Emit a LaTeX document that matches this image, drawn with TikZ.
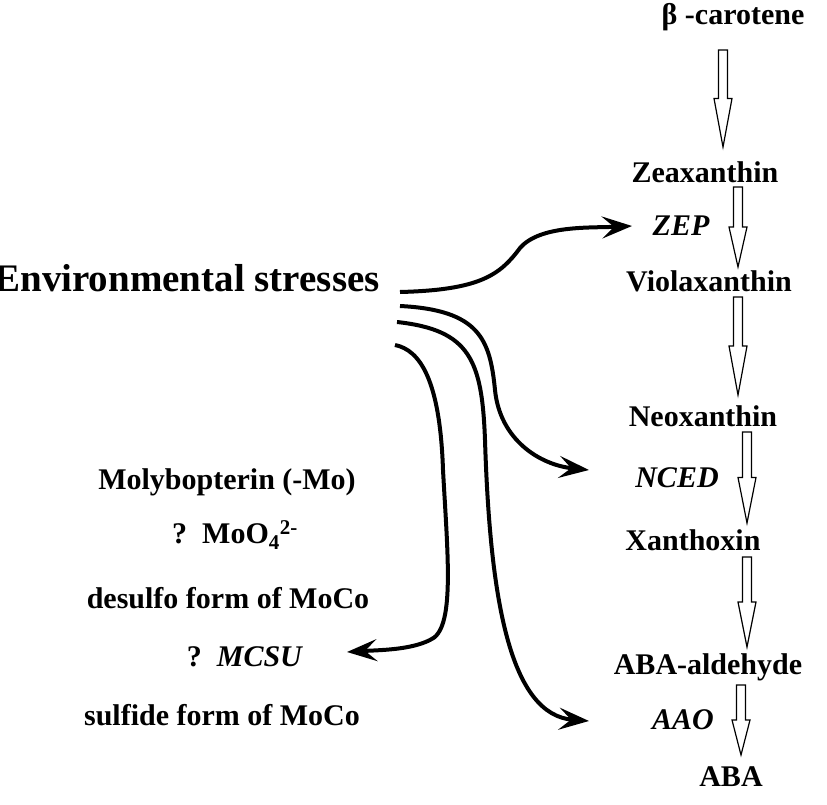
\documentclass[tikz,border=0pt]{standalone}
\usepackage{fontspec}
\setmainfont{Liberation Serif}
\usetikzlibrary{arrows.meta}
\begin{document}
\begin{tikzpicture}[x=1pt,y=-1pt,
  lab/.style={font=\fontsize{30}{32}\selectfont\bfseries, inner sep=0pt},
  enz/.style={font=\fontsize{30}{32}\selectfont\bfseries\itshape, inner sep=0pt},
  stress/.style={line width=4pt, -{Stealth[length=30pt,width=22pt,inset=12pt]}},
  hol/.style={draw=black, line width=1.2pt, fill=white}]
\useasboundingbox (0,0) rectangle (827,805);
% pathway
\node[lab] (car) at (733,17) {β -carotene};
\node[lab] (zea) at (705,172) {Zeaxanthin};
\node[enz] (zep) at (681,226) {ZEP};
\node[lab] (vio) at (709,281) {Violaxanthin};
\node[lab] (neo) at (703,416) {Neoxanthin};
\node[enz] (nced) at (677,478) {NCED};
\node[lab] (xan) at (693,540) {Xanthoxin};
\node[lab] (ald) at (708,667) {ABA-aldehyde};
\node[enz] (aao) at (683,720) {AAO};
\node[lab] (aba) at (731,777) {ABA};
% hollow arrows: x, top, bottom
\newcommand\harrow[3]{\draw[hol] (#1-4.5,#2) -- (#1+4.5,#2) -- (#1+4.5,{(#2+#3)/2}) -- (#1+9,{(#2+#3)/2})
  -- (#1,#3) -- (#1-9,{(#2+#3)/2}) -- (#1-4.5,{(#2+#3)/2}) -- cycle;}
\harrow{723}{50}{147}
\harrow{738}{187}{267}
\harrow{738}{297}{395}
\harrow{747}{432}{523}
\harrow{747}{557}{647}
\harrow{741}{685}{755}
% stresses
\node[font=\fontsize{39}{42}\selectfont\bfseries, inner sep=0pt] (env) at (187,278) {Environmental stresses};
\node[lab] (moly) at (227,482) {Molybopterin (-Mo)};
\node[lab] (moo) at (235,535) {?\ \ MoO\textsubscript{4}\textsuperscript{2-}};
\node[lab] (desu) at (228,598) {desulfo form of MoCo};
\node[lab] (mcsu) at (245,657) {?\ \ \textit{MCSU}};
\node[lab] (sulf) at (222,715) {sulfide form of MoCo};
\coordinate (s1) at (400,292);
\coordinate (s2) at (400,306);
\coordinate (s3) at (397,322);
\coordinate (s4) at (395,345);
\draw[stress] (s1) .. controls (480,290) and (500,275) .. (520,248)
  .. controls (540,225) and (590,228) .. (632,226);
\draw[stress] (s2) .. controls (480,310) and (490,340) .. (495,390)
  .. controls (500,440) and (540,465) .. (589,470);
\draw[stress] (s3) .. controls (470,330) and (482,360) .. (485,440)
  .. controls (490,600) and (510,715) .. (589,721);
\draw[stress] (s4) .. controls (420,350) and (440,380) .. (443,470)
  .. controls (448,560) and (455,630) .. (430,640)
  .. controls (410,650) and (380,650) .. (347,652);
\end{tikzpicture}
\end{document}
